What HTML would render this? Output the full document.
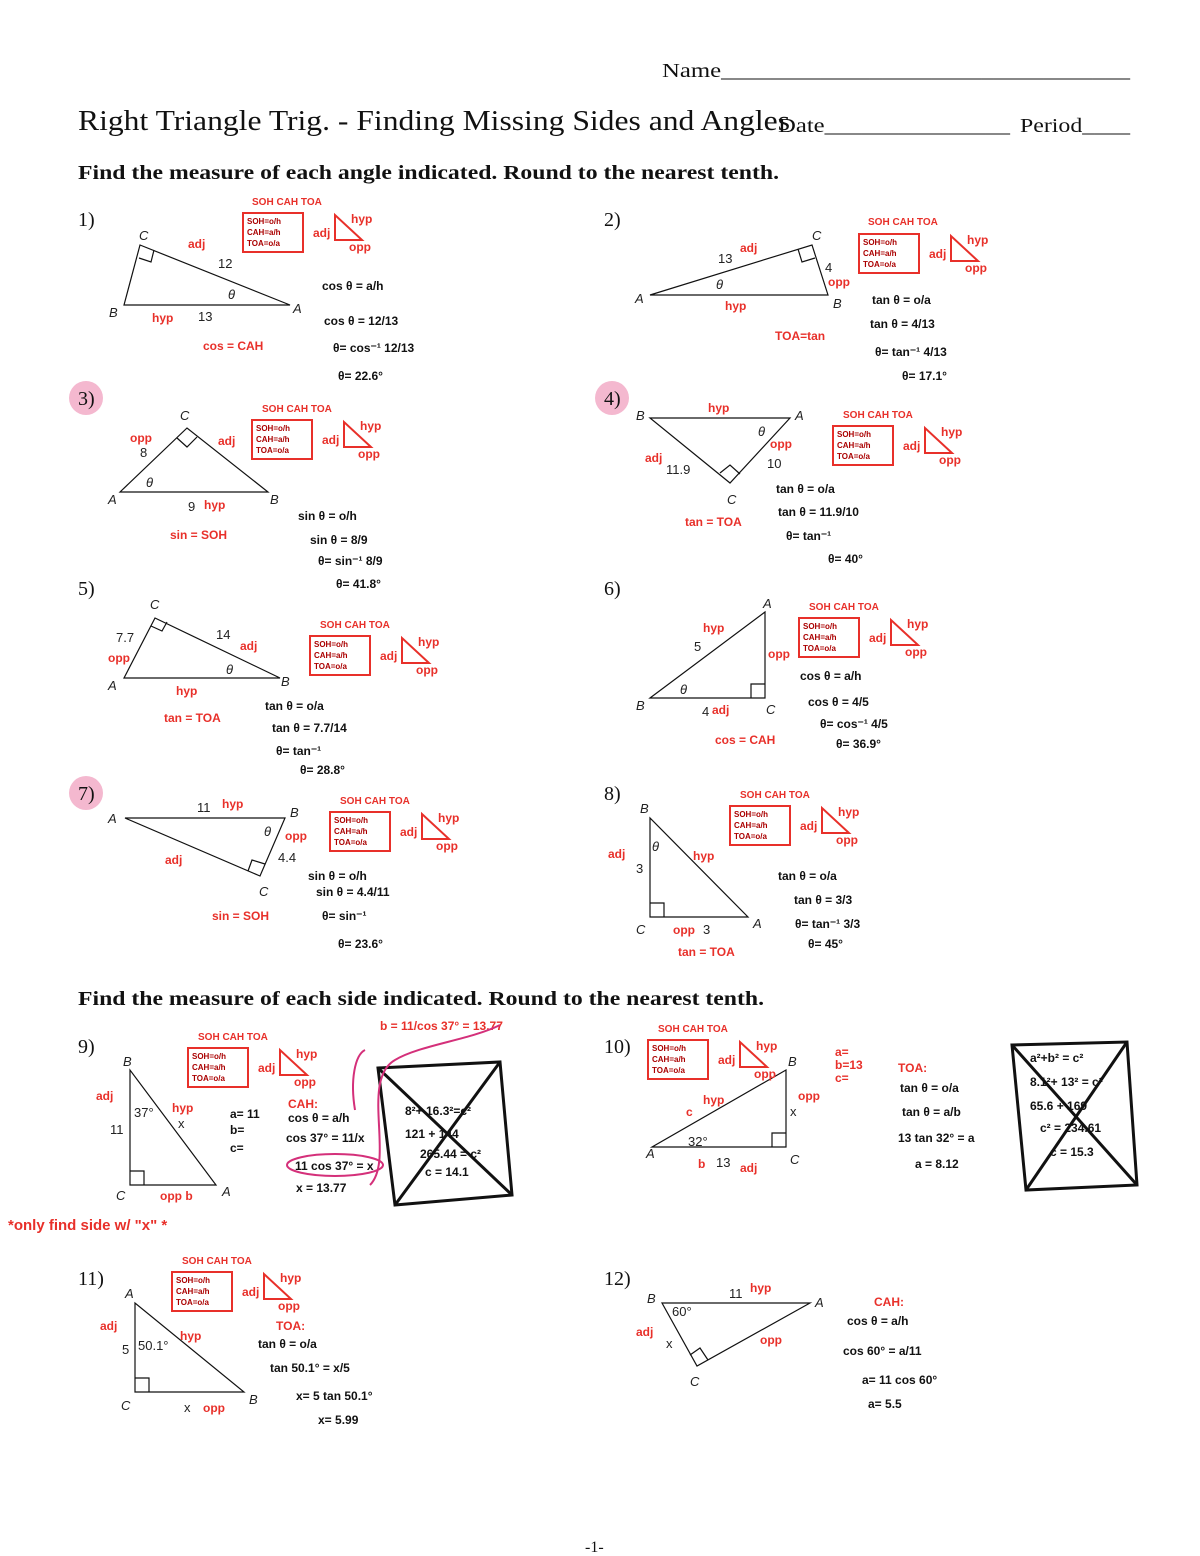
<!DOCTYPE html>
<html><head><meta charset="utf-8"><style>
html,body{margin:0;padding:0;background:#fff;}
svg{display:block}
.p{font-family:"Liberation Serif",serif;fill:#111}
.s{font-family:"Liberation Sans",sans-serif;fill:#222;font-size:13px}
.r{font-family:"Liberation Sans",sans-serif;fill:#e8302a;font-weight:bold;font-size:12px}
.k{font-family:"Liberation Sans",sans-serif;fill:#111;font-weight:bold;font-size:12px}
.t{fill:none;stroke:#111;stroke-width:1.2}
.rb{fill:none;stroke:#e8302a;stroke-width:2}
.bx{font-family:"Liberation Sans",sans-serif;fill:#a00;font-weight:bold;font-size:8px}
</style></head><body>
<svg width="1200" height="1556" viewBox="0 0 1200 1556" xmlns="http://www.w3.org/2000/svg">
<rect width="1200" height="1556" fill="#fff"/>
<text class="p" x="662" y="77" font-size="20" textLength="468" lengthAdjust="spacingAndGlyphs">Name_________________________________</text>
<text class="p" x="78" y="130" font-size="29" textLength="712" lengthAdjust="spacingAndGlyphs">Right Triangle Trig. - Finding Missing Sides and Angles</text>
<text class="p" x="778" y="132" font-size="20" textLength="232" lengthAdjust="spacingAndGlyphs">Date_______________</text>
<text class="p" x="1020" y="132" font-size="20" textLength="110" lengthAdjust="spacingAndGlyphs">Period____</text>
<text class="p" x="78" y="179" font-size="20" font-weight="bold" textLength="701" lengthAdjust="spacingAndGlyphs">Find the measure of each angle indicated.  Round to the nearest tenth.</text>
<text class="p" x="78" y="1005" font-size="20" font-weight="bold" textLength="686" lengthAdjust="spacingAndGlyphs">Find the measure of each side indicated.  Round to the nearest tenth.</text>
<text class="p" x="585" y="1552" font-size="16">-1-</text>

<circle cx="86" cy="398" r="17" fill="#f4b8cf"/>
<circle cx="612" cy="398" r="17" fill="#f4b8cf"/>
<circle cx="86" cy="793" r="17" fill="#f4b8cf"/>

<g class="p" font-size="20">
<text x="78" y="226">1)</text><text x="604" y="226">2)</text>
<text x="78" y="405">3)</text><text x="604" y="405">4)</text>
<text x="78" y="595">5)</text><text x="604" y="595">6)</text>
<text x="78" y="800">7)</text><text x="604" y="800">8)</text>
<text x="78" y="1053">9)</text><text x="604" y="1053">10)</text>
<text x="78" y="1285">11)</text><text x="604" y="1285">12)</text>
</g>

<g class="t">
<polygon points="140,245 124,305 290,305"/><polyline points="154,250 151,262 139,258"/>
<polygon points="650,295 812,245 828,295"/><polyline points="798,249 802,262 815,258"/>
<polygon points="120,492 187,428 268,492"/><polyline points="177,438 187,447 197,437"/>
<polygon points="650,418 790,418 730,483"/><polyline points="720,473 730,465 740,474"/>
<polygon points="124,678 155,618 280,678"/><polyline points="151,626 162,631 167,622"/>
<polygon points="650,698 765,612 765,698"/><polyline points="751,698 751,684 765,684"/>
<polygon points="125,818 285,818 260,876"/><polyline points="248,871 252,860 265,864"/>
<polygon points="650,818 650,917 748,917"/><polyline points="650,903 664,903 664,917"/>
<polygon points="130,1070 130,1185 216,1185"/><polyline points="130,1171 144,1171 144,1185"/>
<polygon points="652,1147 786,1070 786,1147"/><polyline points="772,1147 772,1133 786,1133"/>
<polygon points="135,1303 135,1392 244,1392"/><polyline points="135,1378 149,1378 149,1392"/>
<polygon points="662,1303 810,1303 697,1366"/><polyline points="690,1355 700,1348 708,1360"/>
</g>

<g class="s">
<text x="139" y="240" font-style="italic">C</text><text x="109" y="317" font-style="italic">B</text><text x="293" y="313" font-style="italic">A</text><text x="218" y="268">12</text><text x="198" y="321">13</text><text x="228" y="299" font-style="italic">θ</text>
<text x="635" y="303" font-style="italic">A</text><text x="812" y="240" font-style="italic">C</text><text x="833" y="308" font-style="italic">B</text><text x="718" y="263">13</text><text x="825" y="272">4</text><text x="716" y="289" font-style="italic">θ</text>
<text x="108" y="504" font-style="italic">A</text><text x="180" y="420" font-style="italic">C</text><text x="270" y="504" font-style="italic">B</text><text x="140" y="457">8</text><text x="188" y="511">9</text><text x="146" y="487" font-style="italic">θ</text>
<text x="636" y="420" font-style="italic">B</text><text x="795" y="420" font-style="italic">A</text><text x="727" y="504" font-style="italic">C</text><text x="666" y="474">11.9</text><text x="767" y="468">10</text><text x="758" y="436" font-style="italic">θ</text>
<text x="108" y="690" font-style="italic">A</text><text x="150" y="609" font-style="italic">C</text><text x="281" y="686" font-style="italic">B</text><text x="116" y="642">7.7</text><text x="216" y="639">14</text><text x="226" y="674" font-style="italic">θ</text>
<text x="636" y="710" font-style="italic">B</text><text x="763" y="608" font-style="italic">A</text><text x="766" y="714" font-style="italic">C</text><text x="694" y="651">5</text><text x="702" y="716">4</text><text x="680" y="694" font-style="italic">θ</text>
<text x="108" y="823" font-style="italic">A</text><text x="290" y="817" font-style="italic">B</text><text x="259" y="896" font-style="italic">C</text><text x="197" y="812">11</text><text x="278" y="862">4.4</text><text x="264" y="836" font-style="italic">θ</text>
<text x="640" y="813" font-style="italic">B</text><text x="636" y="934" font-style="italic">C</text><text x="753" y="928" font-style="italic">A</text><text x="636" y="873">3</text><text x="703" y="934">3</text><text x="652" y="851" font-style="italic">θ</text>
<text x="123" y="1066" font-style="italic">B</text><text x="116" y="1200" font-style="italic">C</text><text x="222" y="1196" font-style="italic">A</text><text x="110" y="1134">11</text><text x="134" y="1117">37°</text><text x="178" y="1128">x</text>
<text x="646" y="1158" font-style="italic">A</text><text x="788" y="1066" font-style="italic">B</text><text x="790" y="1164" font-style="italic">C</text><text x="716" y="1167">13</text><text x="688" y="1146">32°</text><text x="790" y="1116">x</text>
<text x="125" y="1298" font-style="italic">A</text><text x="121" y="1410" font-style="italic">C</text><text x="249" y="1404" font-style="italic">B</text><text x="122" y="1354">5</text><text x="138" y="1350">50.1°</text><text x="184" y="1412">x</text>
<text x="647" y="1303" font-style="italic">B</text><text x="815" y="1307" font-style="italic">A</text><text x="690" y="1386" font-style="italic">C</text><text x="729" y="1298">11</text><text x="672" y="1316">60°</text><text x="666" y="1348">x</text>
</g>

<defs>
<g id="bx">
<rect class="rb" x="0" y="0" width="60" height="39"/>
<text class="bx" x="4" y="11">SOH=o/h</text><text class="bx" x="4" y="22">CAH=a/h</text><text class="bx" x="4" y="33">TOA=o/a</text>
<text class="r" x="70" y="24" font-size="9">adj</text>
<polygon class="rb" points="92,2 92,27 119,27"/>
<text class="r" x="108" y="10" font-size="8">hyp</text><text class="r" x="106" y="38" font-size="8">opp</text>
</g>
</defs>
<use href="#bx" x="243" y="213"/>
<use href="#bx" x="859" y="234"/>
<use href="#bx" x="252" y="420"/>
<use href="#bx" x="833" y="426"/>
<use href="#bx" x="310" y="636"/>
<use href="#bx" x="799" y="618"/>
<use href="#bx" x="330" y="812"/>
<use href="#bx" x="730" y="806"/>
<use href="#bx" x="188" y="1048"/>
<use href="#bx" x="648" y="1040"/>
<use href="#bx" x="172" y="1272"/>

<g class="r">
<text x="252" y="205" font-size="10">SOH CAH TOA</text><text x="868" y="225" font-size="10">SOH CAH TOA</text><text x="262" y="412" font-size="10">SOH CAH TOA</text>
<text x="843" y="418" font-size="10">SOH CAH TOA</text><text x="320" y="628" font-size="10">SOH CAH TOA</text><text x="809" y="610" font-size="10">SOH CAH TOA</text>
<text x="340" y="804" font-size="10">SOH CAH TOA</text><text x="740" y="798" font-size="10">SOH CAH TOA</text><text x="198" y="1040" font-size="10">SOH CAH TOA</text>
<text x="658" y="1032" font-size="10">SOH CAH TOA</text><text x="182" y="1264" font-size="10">SOH CAH TOA</text>
<text x="188" y="248">adj</text><text x="152" y="322">hyp</text><text x="203" y="350">cos = CAH</text>
<text x="740" y="252">adj</text><text x="828" y="286">opp</text><text x="725" y="310">hyp</text><text x="775" y="340">TOA=tan</text>
<text x="130" y="442">opp</text><text x="218" y="445">adj</text><text x="204" y="509">hyp</text><text x="170" y="539">sin = SOH</text>
<text x="708" y="412">hyp</text><text x="645" y="462">adj</text><text x="770" y="448">opp</text><text x="685" y="526">tan = TOA</text>
<text x="108" y="662">opp</text><text x="240" y="650">adj</text><text x="176" y="695">hyp</text><text x="164" y="722">tan = TOA</text>
<text x="703" y="632">hyp</text><text x="768" y="658">opp</text><text x="712" y="714">adj</text><text x="715" y="744">cos = CAH</text>
<text x="222" y="808">hyp</text><text x="285" y="840">opp</text><text x="165" y="864">adj</text><text x="212" y="920">sin = SOH</text>
<text x="608" y="858">adj</text><text x="693" y="860">hyp</text><text x="673" y="934">opp</text><text x="678" y="956">tan = TOA</text>
<text x="96" y="1100">adj</text><text x="172" y="1112">hyp</text><text x="160" y="1200">opp b</text><text x="8" y="1230" font-size="15">*only find side w/ "x" *</text>
<text x="703" y="1104">hyp</text><text x="798" y="1100">opp</text><text x="698" y="1168">b</text><text x="740" y="1172">adj</text><text x="686" y="1116">c</text>
<text x="100" y="1330">adj</text><text x="180" y="1340">hyp</text><text x="203" y="1412">opp</text><text x="276" y="1330">TOA:</text>
<text x="750" y="1292">hyp</text><text x="636" y="1336">adj</text><text x="760" y="1344">opp</text><text x="874" y="1306">CAH:</text>
<text x="898" y="1072">TOA:</text><text x="835" y="1056">a=</text><text x="835" y="1069">b=13</text><text x="835" y="1082">c=</text>
<text x="288" y="1108">CAH:</text><text x="380" y="1030">b = 11/cos 37° = 13.77</text>
</g>
<g class="k">
<text x="322" y="290">cos θ = a/h</text><text x="324" y="325">cos θ = 12/13</text><text x="333" y="352">θ= cos⁻¹ 12/13</text><text x="338" y="380">θ= 22.6°</text>
<text x="872" y="304">tan θ = o/a</text><text x="870" y="328">tan θ = 4/13</text><text x="875" y="356">θ= tan⁻¹ 4/13</text><text x="902" y="380">θ= 17.1°</text>
<text x="298" y="520">sin θ = o/h</text><text x="310" y="544">sin θ = 8/9</text><text x="318" y="565">θ= sin⁻¹ 8/9</text><text x="336" y="588">θ= 41.8°</text>
<text x="776" y="493">tan θ = o/a</text><text x="778" y="516">tan θ = 11.9/10</text><text x="786" y="540">θ= tan⁻¹</text><text x="828" y="563">θ= 40°</text>
<text x="265" y="710">tan θ = o/a</text><text x="272" y="732">tan θ = 7.7/14</text><text x="276" y="755">θ= tan⁻¹</text><text x="300" y="774">θ= 28.8°</text>
<text x="800" y="680">cos θ = a/h</text><text x="808" y="706">cos θ = 4/5</text><text x="820" y="728">θ= cos⁻¹ 4/5</text><text x="836" y="748">θ= 36.9°</text>
<text x="308" y="880">sin θ = o/h</text><text x="316" y="896">sin θ = 4.4/11</text><text x="322" y="920">θ= sin⁻¹</text><text x="338" y="948">θ= 23.6°</text>
<text x="778" y="880">tan θ = o/a</text><text x="794" y="904">tan θ = 3/3</text><text x="795" y="928">θ= tan⁻¹ 3/3</text><text x="808" y="948">θ= 45°</text>
<text x="230" y="1118">a= 11</text><text x="230" y="1134">b=</text><text x="230" y="1152">c=</text>
<text x="288" y="1122">cos θ = a/h</text><text x="286" y="1142">cos 37° = 11/x</text><text x="295" y="1170">11 cos 37° = x</text><text x="296" y="1192">x = 13.77</text>
<text x="900" y="1092">tan θ = o/a</text><text x="902" y="1116">tan θ = a/b</text><text x="898" y="1142">13 tan 32° = a</text><text x="915" y="1168">a = 8.12</text>
<text x="258" y="1348">tan θ = o/a</text><text x="270" y="1372">tan 50.1° = x/5</text><text x="296" y="1400">x= 5 tan 50.1°</text><text x="318" y="1424">x= 5.99</text>
<text x="847" y="1325">cos θ = a/h</text><text x="843" y="1355">cos 60° = a/11</text><text x="862" y="1384">a= 11 cos 60°</text><text x="868" y="1408">a= 5.5</text>
</g>
<g fill="none" stroke="#111" stroke-width="3">
<polygon points="378,1068 500,1062 512,1195 395,1205"/>
<line x1="378" y1="1068" x2="512" y2="1195"/><line x1="500" y1="1062" x2="395" y2="1205"/>
<polygon points="1012,1045 1127,1042 1137,1185 1026,1190"/>
<line x1="1012" y1="1045" x2="1137" y2="1185"/><line x1="1127" y1="1042" x2="1026" y2="1190"/>
</g>
<g class="k" font-size="11">
<text x="405" y="1115">8²+ 16.3²=c²</text><text x="405" y="1138">121 + 144</text><text x="420" y="1158">265.44 = c²</text><text x="425" y="1176">c = 14.1</text>
<text x="1030" y="1062">a²+b² = c²</text><text x="1030" y="1086">8.1²+ 13² = c²</text><text x="1030" y="1110">65.6 + 169</text><text x="1040" y="1132">c² = 234.61</text><text x="1050" y="1156">c = 15.3</text>
</g>
<g fill="none" stroke="#d4307a" stroke-width="2">
<ellipse cx="335" cy="1165" rx="48" ry="11"/>
<path d="M370,1185 C395,1160 360,1080 395,1060 C420,1045 470,1040 500,1025"/>
<path d="M355,1110 C350,1080 355,1055 365,1050"/>
</g>
</svg>
</body></html>
